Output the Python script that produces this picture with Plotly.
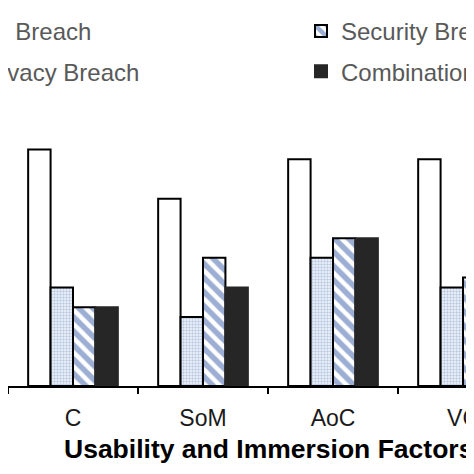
# %%

import plotly.graph_objects as go


# %%

# Daten
categories = ['C', 'SoM', 'AoC', 'VC']
no_breach = [24, 19, 23, 23]
privacy_breach = [10, 7, 13, 10]
security_breach = [8, 13, 15, 11]
combination = [8, 10, 15, 12]

x_title = 'Usability and Immersion Factors'


# Plot erstellen
def plot_breaches():
    fig = go.Figure()
    fig.add_trace(go.Bar(
        x=categories, y=no_breach, name='No Breach',
        marker=dict(color='white', line=dict(color='black', width=2)),
        legend='legend', legendgroup='a'))
    fig.add_trace(go.Bar(
        x=categories, y=privacy_breach, name='Privacy Breach',
        marker=dict(color='white', line=dict(color='black', width=2),
                    pattern=dict(shape='.', fgcolor='#7f9cc9', bgcolor='#f4f7fb',
                                 size=3, solidity=0.5)),
        legend='legend', legendgroup='b'))
    fig.add_trace(go.Bar(
        x=categories, y=security_breach, name='Security Breach',
        marker=dict(color='white', line=dict(color='black', width=2),
                    pattern=dict(shape='\\', fgcolor='#3a5ea8', bgcolor='white',
                                 size=10, solidity=0.55)),
        legend='legend2', legendgroup='c'))
    fig.add_trace(go.Bar(
        x=categories, y=combination, name='Combination',
        marker=dict(color='#262626', line=dict(color='#262626', width=2)),
        legend='legend2', legendgroup='d'))

    legend_font = dict(family='Arial, Liberation Sans', size=24, color='#595959')

    # Seite hat 8px Rand -> alles um 8px verschoben
    fig.update_layout(
        width=474, height=474,
        margin=dict(l=0, r=0, t=102, b=96, autoexpand=False),
        paper_bgcolor='white', plot_bgcolor='white',
        barmode='group', bargap=0.31, bargroupgap=0,
        font=dict(family='Arial, Liberation Sans', color='black'),
        xaxis=dict(type='category', range=[-0.5, 3.146],
                   showline=True, linecolor='black', linewidth=2,
                   ticks='outside', tickson='boundaries', ticklen=6,
                   tickwidth=2, tickcolor='black', ticklabelstandoff=10,
                   tickfont=dict(size=23, color='#1a1a1a'), showgrid=False),
        yaxis=dict(range=[0, 28], visible=False, showgrid=False),
        legend=dict(x=-70 / 474, y=1.366, xanchor='left', yanchor='top',
                    font=legend_font, tracegroupgap=6, bgcolor='rgba(0,0,0,0)'),
        legend2=dict(x=293 / 474, y=1.366, xanchor='left', yanchor='top',
                     font=legend_font, tracegroupgap=6, bgcolor='rgba(0,0,0,0)'),
        annotations=[dict(text='<b>' + x_title + '</b>', xref='paper', yref='paper',
                          x=260.5 / 474, y=-0.228, xanchor='center', yanchor='middle',
                          showarrow=False, font=dict(size=26.5, color='black'))])

    return fig


# %%
if __name__ == "__main__":
    fig = plot_breaches()
    fig.write_html("out.html")
